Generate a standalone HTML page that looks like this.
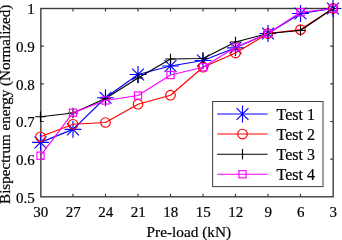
<!DOCTYPE html>
<html><head><meta charset="utf-8"><style>
html,body{margin:0;padding:0;background:#fff;width:342px;height:240px;overflow:hidden}
svg{display:block}
text{font-family:"Liberation Serif",serif;font-size:15px;fill:#000;stroke:#000;stroke-width:0.2px}
</style></head><body>
<svg width="342" height="240" viewBox="0 0 342 240">
<rect x="40.85" y="8.5" width="292.34999999999997" height="188.3" fill="none" stroke="#3c3c3c" stroke-width="1.4"/><path d="M73.00,196.8v-3M73.00,8.5v3M105.50,196.8v-3M105.50,8.5v3M138.00,196.8v-3M138.00,8.5v3M170.50,196.8v-3M170.50,8.5v3M203.00,196.8v-3M203.00,8.5v3M235.50,196.8v-3M235.50,8.5v3M268.00,196.8v-3M268.00,8.5v3M300.50,196.8v-3M300.50,8.5v3M40.85,159.14h3M333.2,159.14h-3M40.85,121.48h3M333.2,121.48h-3M40.85,83.82h3M333.2,83.82h-3M40.85,46.16h3M333.2,46.16h-3" stroke="#3c3c3c" stroke-width="1.2" fill="none"/><polyline points="40.50,142.40 73.00,129.40 105.50,97.75 138.00,74.50 170.50,66.00 203.00,60.50 235.50,47.80 268.00,33.50 300.50,13.50 333.00,8.50" fill="none" stroke="#0000ff" stroke-width="1.15" stroke-linejoin="round"/><path d="M32.10,142.40L48.90,142.40M34.56,136.46L46.44,148.34M40.50,134.00L40.50,150.80M46.44,136.46L34.56,148.34" stroke="#0000ff" stroke-width="1.15" fill="none"/><path d="M64.60,129.40L81.40,129.40M67.06,123.46L78.94,135.34M73.00,121.00L73.00,137.80M78.94,123.46L67.06,135.34" stroke="#0000ff" stroke-width="1.15" fill="none"/><path d="M97.10,97.75L113.90,97.75M99.56,91.81L111.44,103.69M105.50,89.35L105.50,106.15M111.44,91.81L99.56,103.69" stroke="#0000ff" stroke-width="1.15" fill="none"/><path d="M129.60,74.50L146.40,74.50M132.06,68.56L143.94,80.44M138.00,66.10L138.00,82.90M143.94,68.56L132.06,80.44" stroke="#0000ff" stroke-width="1.15" fill="none"/><path d="M162.10,66.00L178.90,66.00M164.56,60.06L176.44,71.94M170.50,57.60L170.50,74.40M176.44,60.06L164.56,71.94" stroke="#0000ff" stroke-width="1.15" fill="none"/><path d="M194.60,60.50L211.40,60.50M197.06,54.56L208.94,66.44M203.00,52.10L203.00,68.90M208.94,54.56L197.06,66.44" stroke="#0000ff" stroke-width="1.15" fill="none"/><path d="M227.10,47.80L243.90,47.80M229.56,41.86L241.44,53.74M235.50,39.40L235.50,56.20M241.44,41.86L229.56,53.74" stroke="#0000ff" stroke-width="1.15" fill="none"/><path d="M259.60,33.50L276.40,33.50M262.06,27.56L273.94,39.44M268.00,25.10L268.00,41.90M273.94,27.56L262.06,39.44" stroke="#0000ff" stroke-width="1.15" fill="none"/><path d="M292.10,13.50L308.90,13.50M294.56,7.56L306.44,19.44M300.50,5.10L300.50,21.90M306.44,7.56L294.56,19.44" stroke="#0000ff" stroke-width="1.15" fill="none"/><path d="M324.60,8.50L341.40,8.50M327.06,2.56L338.94,14.44M333.00,0.10L333.00,16.90M338.94,2.56L327.06,14.44" stroke="#0000ff" stroke-width="1.15" fill="none"/><polyline points="40.50,136.80 73.00,124.30 105.50,122.50 138.00,104.25 170.50,95.20 203.00,67.20 235.50,53.00 268.00,33.50 300.50,29.60 333.00,8.50" fill="none" stroke="#ff0000" stroke-width="1.15" stroke-linejoin="round"/><circle cx="40.50" cy="136.80" r="4.8" stroke="#ff0000" stroke-width="1.15" fill="none"/><circle cx="73.00" cy="124.30" r="4.8" stroke="#ff0000" stroke-width="1.15" fill="none"/><circle cx="105.50" cy="122.50" r="4.8" stroke="#ff0000" stroke-width="1.15" fill="none"/><circle cx="138.00" cy="104.25" r="4.8" stroke="#ff0000" stroke-width="1.15" fill="none"/><circle cx="170.50" cy="95.20" r="4.8" stroke="#ff0000" stroke-width="1.15" fill="none"/><circle cx="203.00" cy="67.20" r="4.8" stroke="#ff0000" stroke-width="1.15" fill="none"/><circle cx="235.50" cy="53.00" r="4.8" stroke="#ff0000" stroke-width="1.15" fill="none"/><circle cx="268.00" cy="33.50" r="4.8" stroke="#ff0000" stroke-width="1.15" fill="none"/><circle cx="300.50" cy="29.60" r="4.8" stroke="#ff0000" stroke-width="1.15" fill="none"/><circle cx="333.00" cy="8.50" r="4.8" stroke="#ff0000" stroke-width="1.15" fill="none"/><polyline points="40.50,116.70 73.00,113.00 105.50,98.50 138.00,78.00 170.50,59.00 203.00,58.50 235.50,42.00 268.00,33.50 300.50,30.50 333.00,8.50" fill="none" stroke="#000000" stroke-width="1.15" stroke-linejoin="round"/><path d="M35.30,116.70H45.70M40.50,111.50V121.90" stroke="#000000" stroke-width="1.15" fill="none"/><path d="M67.80,113.00H78.20M73.00,107.80V118.20" stroke="#000000" stroke-width="1.15" fill="none"/><path d="M100.30,98.50H110.70M105.50,93.30V103.70" stroke="#000000" stroke-width="1.15" fill="none"/><path d="M132.80,78.00H143.20M138.00,72.80V83.20" stroke="#000000" stroke-width="1.15" fill="none"/><path d="M165.30,59.00H175.70M170.50,53.80V64.20" stroke="#000000" stroke-width="1.15" fill="none"/><path d="M197.80,58.50H208.20M203.00,53.30V63.70" stroke="#000000" stroke-width="1.15" fill="none"/><path d="M230.30,42.00H240.70M235.50,36.80V47.20" stroke="#000000" stroke-width="1.15" fill="none"/><path d="M262.80,33.50H273.20M268.00,28.30V38.70" stroke="#000000" stroke-width="1.15" fill="none"/><path d="M295.30,30.50H305.70M300.50,25.30V35.70" stroke="#000000" stroke-width="1.15" fill="none"/><path d="M327.80,8.50H338.20M333.00,3.30V13.70" stroke="#000000" stroke-width="1.15" fill="none"/><polyline points="40.50,155.70 73.00,112.70 105.50,100.50 138.00,95.50 170.50,75.00 203.00,67.20 235.50,47.30 268.00,33.50 300.50,12.30 333.00,8.50" fill="none" stroke="#ff00ff" stroke-width="1.15" stroke-linejoin="round"/><rect x="36.90" y="152.10" width="7.20" height="7.20" stroke="#ff00ff" stroke-width="1.15" fill="none"/><rect x="69.40" y="109.10" width="7.20" height="7.20" stroke="#ff00ff" stroke-width="1.15" fill="none"/><rect x="101.90" y="96.90" width="7.20" height="7.20" stroke="#ff00ff" stroke-width="1.15" fill="none"/><rect x="134.40" y="91.90" width="7.20" height="7.20" stroke="#ff00ff" stroke-width="1.15" fill="none"/><rect x="166.90" y="71.40" width="7.20" height="7.20" stroke="#ff00ff" stroke-width="1.15" fill="none"/><rect x="199.40" y="63.60" width="7.20" height="7.20" stroke="#ff00ff" stroke-width="1.15" fill="none"/><rect x="231.90" y="43.70" width="7.20" height="7.20" stroke="#ff00ff" stroke-width="1.15" fill="none"/><rect x="264.40" y="29.90" width="7.20" height="7.20" stroke="#ff00ff" stroke-width="1.15" fill="none"/><rect x="296.90" y="8.70" width="7.20" height="7.20" stroke="#ff00ff" stroke-width="1.15" fill="none"/><rect x="329.40" y="4.90" width="7.20" height="7.20" stroke="#ff00ff" stroke-width="1.15" fill="none"/>
<text x="34.8" y="202.50" text-anchor="end">0.5</text><text x="34.8" y="164.84" text-anchor="end">0.6</text><text x="34.8" y="127.18" text-anchor="end">0.7</text><text x="34.8" y="89.52" text-anchor="end">0.8</text><text x="34.8" y="51.86" text-anchor="end">0.9</text><text x="34.8" y="14.20" text-anchor="end">1</text><text x="40.70" y="217.1" text-anchor="middle">30</text><text x="73.20" y="217.1" text-anchor="middle">27</text><text x="105.70" y="217.1" text-anchor="middle">24</text><text x="138.20" y="217.1" text-anchor="middle">21</text><text x="170.70" y="217.1" text-anchor="middle">18</text><text x="203.20" y="217.1" text-anchor="middle">15</text><text x="235.70" y="217.1" text-anchor="middle">12</text><text x="268.20" y="217.1" text-anchor="middle">9</text><text x="300.70" y="217.1" text-anchor="middle">6</text><text x="333.20" y="217.1" text-anchor="middle">3</text><text x="188.8" y="237.3" text-anchor="middle" style="font-size:15.3px">Pre-load (kN)</text><text transform="translate(9.6,104.3) rotate(-90)" text-anchor="middle" style="font-size:15.1px">Bispectrum energy (Normalized)</text>
<rect x="212.6" y="101.5" width="110.4" height="85.1" fill="#fff" stroke="#3c3c3c" stroke-width="1"/><path d="M217.2,114.0H267.6" stroke="#0000ff" stroke-width="1.1"/><path d="M236.56,108.06L248.44,119.94M242.50,105.60L242.50,122.40M248.44,108.06L236.56,119.94" stroke="#0000ff" stroke-width="1.15" fill="none"/><text x="276.6" y="120.2" style="font-size:16px">Test 1</text><path d="M217.2,134.0H267.6" stroke="#ff0000" stroke-width="1.1"/><circle cx="242.50" cy="134.00" r="4.8" stroke="#ff0000" stroke-width="1.15" fill="none"/><text x="276.6" y="140.2" style="font-size:16px">Test 2</text><path d="M217.2,154.25H267.6" stroke="#000000" stroke-width="1.1"/><path d="M242.50,149.05V159.45" stroke="#000000" stroke-width="1.15" fill="none"/><text x="276.6" y="160.45" style="font-size:16px">Test 3</text><path d="M217.2,174.25H267.6" stroke="#ff00ff" stroke-width="1.1"/><rect x="238.90" y="170.65" width="7.20" height="7.20" stroke="#ff00ff" stroke-width="1.15" fill="none"/><text x="276.6" y="180.45" style="font-size:16px">Test 4</text>
</svg>
</body></html>
